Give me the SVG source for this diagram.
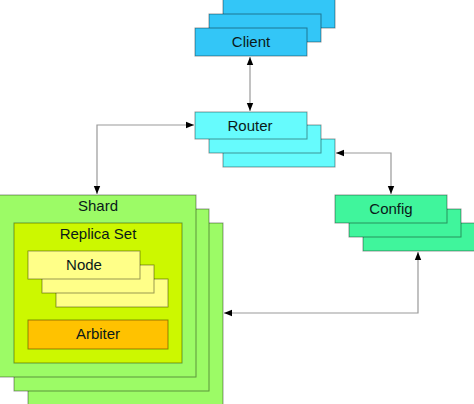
<svg xmlns="http://www.w3.org/2000/svg" width="474" height="404" viewBox="0 0 474 404">
<defs>
<style>
rect{stroke:#000;stroke-opacity:0.4;stroke-width:1}
.client{fill:#33c6f7}
.router{fill:#66fbfd}
.config{fill:#40f59c}
.shard{fill:#9cfb66}
.replica{fill:#ccf800}
.node{fill:#ffff88}
.arbiter{fill:#ffc200}
text{font-family:"Liberation Sans",Arial,sans-serif;font-size:15px;fill:#0a1a1a;text-anchor:middle}
.conn{fill:none;stroke:#999;stroke-width:1.2}
</style>
<marker id="ah" viewBox="0 0 10 10" refX="10" refY="5" markerWidth="8" markerHeight="8" orient="auto-start-reverse" markerUnits="userSpaceOnUse">
<path d="M0,1 L10,5 L0,9 Z" fill="#000"/>
</marker>
</defs>
<rect width="474" height="404" fill="#fff" style="stroke:none"/>
<g id="connectors">
<path class="conn" d="M250,57 L250,111" marker-start="url(#ah)" marker-end="url(#ah)"/>
<path class="conn" d="M194,125 L97,125 L97,194" marker-start="url(#ah)" marker-end="url(#ah)"/>
<path class="conn" d="M336,153 L391,153 L391,194" marker-start="url(#ah)" marker-end="url(#ah)"/>
<path class="conn" d="M418,252 L418,313 L224,313" marker-start="url(#ah)" marker-end="url(#ah)"/>
</g>
<g id="client">
<rect class="client" x="223" y="-1" width="112" height="29"/>
<rect class="client" x="209" y="14" width="112" height="28"/>
<rect class="client" x="195" y="28" width="112" height="28"/>
<text x="251" y="47">Client</text>
</g>
<g id="router">
<rect class="router" x="223" y="139" width="112" height="28"/>
<rect class="router" x="209" y="125" width="112" height="28"/>
<rect class="router" x="195" y="112" width="112" height="27"/>
<text x="250" y="131">Router</text>
</g>
<g id="config">
<rect class="config" x="363" y="223" width="112" height="28"/>
<rect class="config" x="349" y="209" width="112" height="28"/>
<rect class="config" x="335" y="195" width="112" height="28"/>
<text x="391" y="214">Config</text>
</g>
<g id="shard">
<rect class="shard" x="28" y="223" width="195" height="182"/>
<rect class="shard" x="14" y="209" width="195" height="182"/>
<rect class="shard" x="-1" y="195" width="197" height="182"/>
<text x="98" y="211">Shard</text>
</g>
<g id="replica-set">
<rect class="replica" x="14" y="223" width="168" height="140"/>
<text x="98" y="239">Replica Set</text>
</g>
<g id="node">
<rect class="node" x="56" y="279" width="112" height="28"/>
<rect class="node" x="42" y="265" width="112" height="28"/>
<rect class="node" x="28" y="251" width="112" height="28"/>
<text x="84" y="270">Node</text>
</g>
<g id="arbiter">
<rect class="arbiter" x="28" y="320" width="140" height="29"/>
<text x="98" y="339">Arbiter</text>
</g>
</svg>
